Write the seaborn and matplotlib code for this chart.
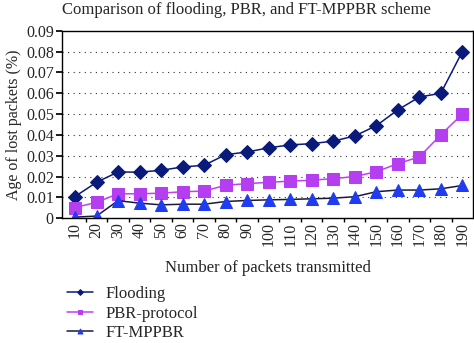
import matplotlib
matplotlib.use("Agg")
import matplotlib.pyplot as plt
import seaborn as sns
import pandas as pd
import numpy as np
from matplotlib.ticker import FixedLocator

sns.set_theme(style="white")
plt.rcParams['font.family'] = ['Liberation Serif', 'DejaVu Serif']

packets = ["10", "20", "30", "40", "50", "60", "70", "80", "90", "100",
           "110", "120", "130", "140", "150", "160", "170", "180", "190"]
flooding = [0.0104, 0.0172, 0.0222, 0.0221, 0.0230, 0.0246, 0.0254, 0.0305, 0.0318, 0.0338,
            0.0352, 0.0358, 0.0370, 0.0395, 0.0444, 0.0520, 0.0582, 0.0600, 0.0800]
pbr = [0.0051, 0.0076, 0.0117, 0.0117, 0.0120, 0.0127, 0.0130, 0.0158, 0.0166, 0.0172,
       0.0178, 0.0182, 0.0190, 0.0200, 0.0223, 0.0262, 0.0294, 0.0400, 0.0500]
ftmppbr = [0.0005, 0.0010, 0.0084, 0.0072, 0.0064, 0.0067, 0.0067, 0.0080, 0.0085, 0.0088,
           0.0090, 0.0093, 0.0096, 0.0103, 0.0127, 0.0135, 0.0135, 0.0141, 0.0157]
yticks = [0, 0.01, 0.02, 0.03, 0.04, 0.05, 0.06, 0.07, 0.08, 0.09]
ytick_labels = ["0", "0.01", "0.02", "0.03", "0.04", "0.05", "0.06", "0.07", "0.08", "0.09"]

df = pd.DataFrame({"packets": packets, "Flooding": flooding,
                   "PBR-protocol": pbr, "FT-MPPBR": ftmppbr})

fig = plt.figure(figsize=(4.74, 3.43), dpi=100)
ax = fig.add_axes([0.131, 0.364, 0.867, 0.546])

sns.lineplot(data=df, x="packets", y="Flooding", ax=ax, color="#0a1a7a",
             marker="D", markersize=7, markerfacecolor="#0a1a7a", markeredgecolor="#0a1a7a",
             linewidth=1.1, label="Flooding", sort=False)
sns.lineplot(data=df, x="packets", y="PBR-protocol", ax=ax, color="#c040f0",
             marker="s", markersize=8, markerfacecolor="#b53ff0", markeredgecolor="#b53ff0",
             linewidth=1.1, label="PBR-protocol", sort=False)
sns.lineplot(data=df, x="packets", y="FT-MPPBR", ax=ax, color="#1a1a3a",
             marker="^", markersize=8.5, markerfacecolor="#1f3cf0", markeredgecolor="#1f3cf0",
             linewidth=1.1, label="FT-MPPBR", sort=False)

ax.set_xlim(-0.6, 18.5)
ax.set_ylim(0, 0.09)
ax.set_yticks(yticks)
ax.set_yticklabels(ytick_labels)
for y in yticks[1:-1]:
    ax.axhline(y, color="#333333", linestyle=(0, (1, 4)), linewidth=0.8, zorder=0)

ax.tick_params(axis="x", which="major", length=0, rotation=90, labelsize=11.5, pad=3)
ax.xaxis.set_minor_locator(FixedLocator(np.arange(0.5, 18.5, 1.0)))
ax.tick_params(axis="x", which="minor", length=3, direction="out", bottom=True, color="black")
ax.tick_params(axis="y", which="major", length=4, direction="out", left=True,
               labelsize=11.5, pad=2, color="black")
for s in ax.spines.values():
    s.set_color("black")
    s.set_linewidth(1.0)

fig.suptitle("Comparison of flooding, PBR, and FT-MPPBR scheme", fontsize=12,
             x=0.52, y=0.993, va="top")
ax.set_xlabel("Number of packets transmitted", fontsize=12, labelpad=10)
ax.set_ylabel("Age of lost packets (%)", fontsize=11.5, labelpad=3)

ax.legend(loc="upper left", bbox_to_anchor=(-0.005, -0.328), frameon=False,
          fontsize=12, handlelength=1.6, handletextpad=0.7, labelspacing=0.2,
          borderaxespad=0, markerscale=0.42)

fig.savefig("out.png", dpi=100)
